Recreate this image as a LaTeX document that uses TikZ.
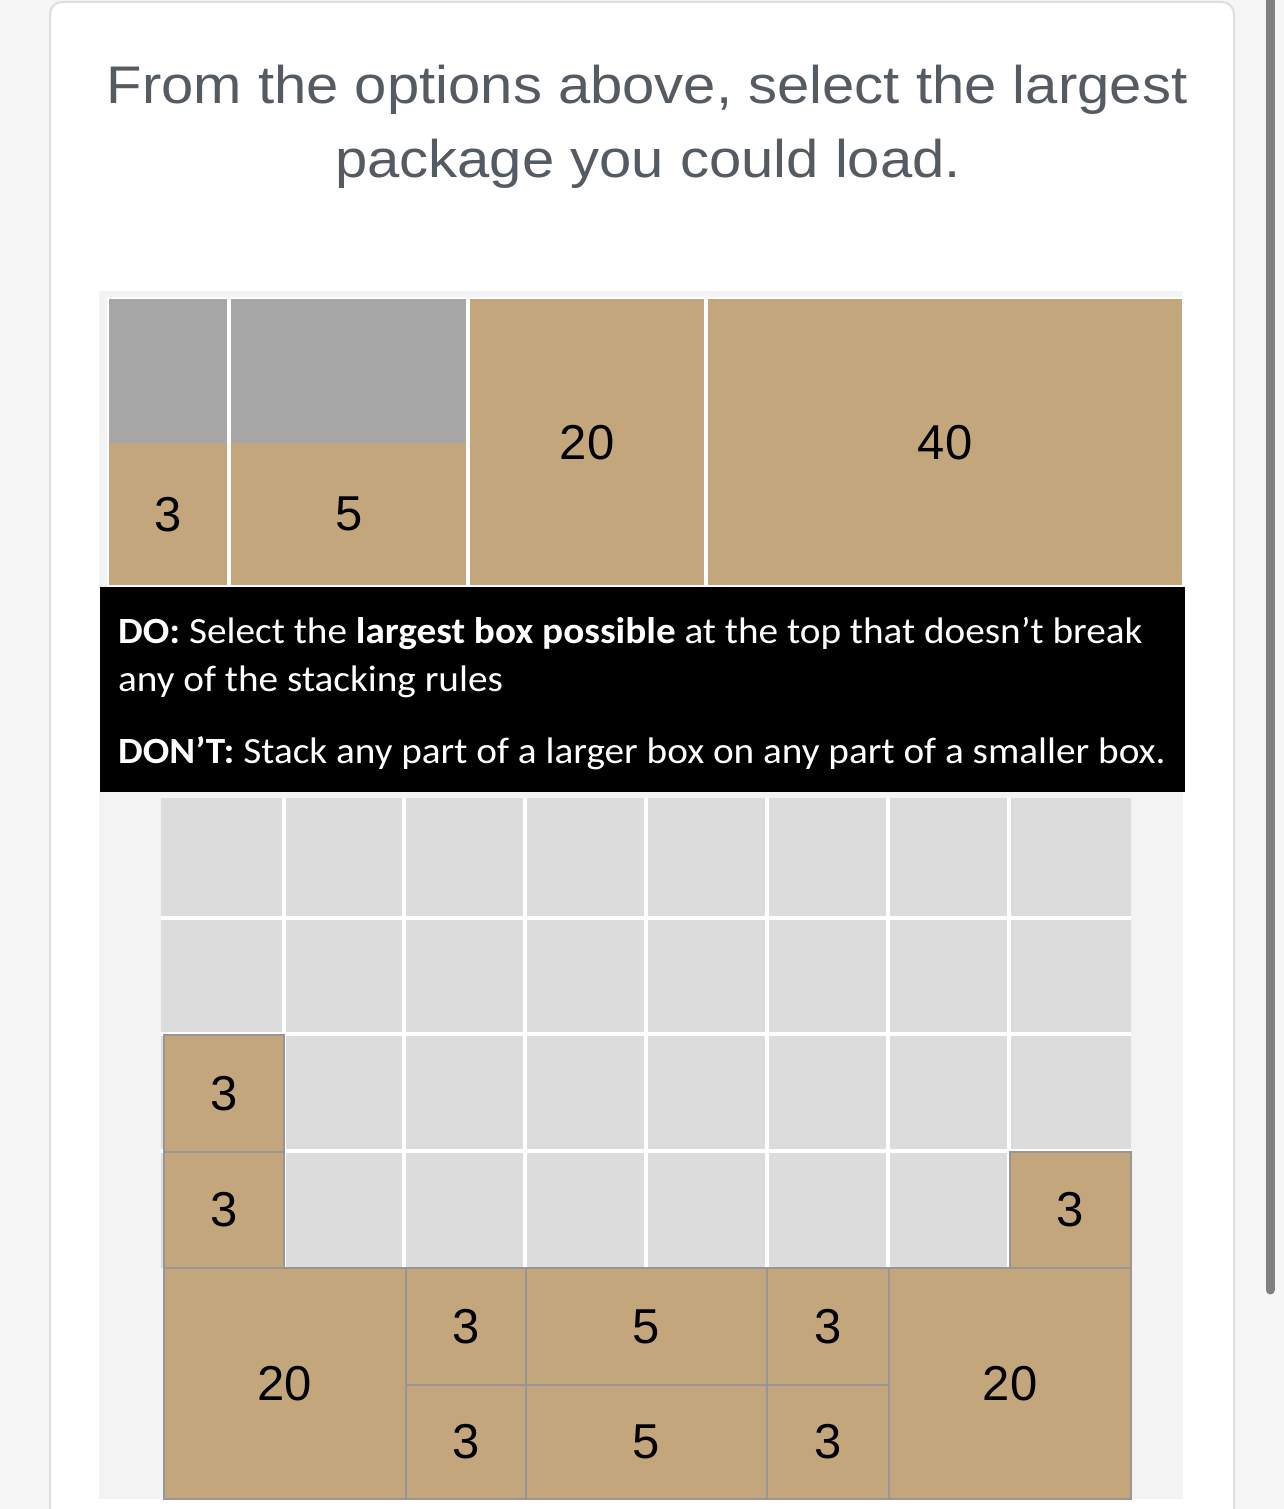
\documentclass[tikz,border=0pt]{standalone}
\usepackage{fontspec}
\setmainfont{Liberation Sans}
\newfontfamily\headfont[FakeStretch=1.095]{Liberation Sans}
\newfontfamily\notefont[FakeStretch=1.06]{Carlito}
\definecolor{pagegrey}{RGB}{246,246,246}
\definecolor{cardline}{RGB}{222,222,222}
\definecolor{headgrey}{RGB}{85,91,98}
\definecolor{imgbg}{RGB}{243,243,243}
\definecolor{boxtan}{RGB}{196,166,125}
\definecolor{boxedge}{RGB}{150,150,150}
\definecolor{topgrey}{RGB}{166,166,166}
\definecolor{cellgrey}{RGB}{220,220,220}
\definecolor{barcol}{RGB}{128,128,128}
\tikzset{
  headtext/.style={anchor=base, text=headgrey, inner sep=0pt, font=\headfont\fontsize{53}{60}\selectfont},
  notetext/.style={anchor=base west, text=white, inner sep=0pt, font=\notefont\fontsize{37}{40}\selectfont},
  pack/.style={anchor=north west, inner sep=0pt, fill=boxtan, text=black, font=\fontsize{49}{49}\selectfont},
  stackbox/.style={pack, draw=boxedge, line width=2pt},
  greybox/.style={anchor=north west, inner sep=0pt, fill=topgrey},
  gridline/.style={white, line width=4pt}
}

\begin{document}
\begin{tikzpicture}[x=1pt,y=-1pt]
	\useasboundingbox (0,0) rectangle (1284,1509);
	\fill[pagegrey] (0,0) rectangle (1284,1509);
	\draw[cardline, line width=2pt, fill=white, rounded corners=12pt] (50,2) rectangle (1234,1540);
	\draw[barcol, line width=9pt, line cap=round] (1270,-20) -- (1270,1290);
	
	\node[headtext] (head1) at (647,104) {From the options above, select the largest};
	\node[headtext] (head2) at (648,177) {package you could load.};
	
	\fill[imgbg] (99,291) rectangle (1183,587);
	\fill[white] (107,297) rectangle (1183,587);
	\node[greybox, minimum width=118pt, minimum height=144pt] (grey3) at (109,299) {};
	\node[pack, minimum width=118pt, minimum height=142pt] (top3) at (109,443) {3};
	\node[greybox, minimum width=235pt, minimum height=144pt] (grey5) at (231,299) {};
	\node[pack, minimum width=235pt, minimum height=142pt] (top5) at (231,443) {5};
	\node[pack, minimum width=234pt, minimum height=286pt] (top20) at (470,299) {20};
	\node[pack, minimum width=474pt, minimum height=286pt] (top40) at (708,299) {40};
	
	\fill[black] (100,587) rectangle (1185,792);
	\node[notetext] (dorule) at (118,643) {\textbf{DO:} Select the \textbf{largest box possible} at the top that doesn’t break};
	\node[notetext] (dorule2) at (118,691) {any of the stacking rules};
	\node[notetext] (dontrule) at (118,763) {\textbf{DON’T:} Stack any part of a larger box on any part of a smaller box.};
	
	\fill[imgbg] (99,792) rectangle (1183,1499);
	\fill[cellgrey] (161,798) rectangle (1131,1268);
	\draw[gridline] (284,798) -- (284,1268);
	\draw[gridline] (404,798) -- (404,1268);
	\draw[gridline] (525,798) -- (525,1268);
	\draw[gridline] (646,798) -- (646,1268);
	\draw[gridline] (767,798) -- (767,1268);
	\draw[gridline] (888,798) -- (888,1268);
	\draw[gridline] (1009,798) -- (1009,1268);
	\draw[gridline] (161,918) -- (1131,918);
	\draw[gridline] (161,1034) -- (1131,1034);
	\draw[gridline] (161,1151) -- (1131,1151);
	
	\node[stackbox, minimum width=120pt, minimum height=117pt] (left3a) at (163,1034) {3};
	\node[stackbox, minimum width=120pt, minimum height=116pt] (left3b) at (163,1151) {3};
	\node[stackbox, minimum width=121pt, minimum height=116pt] (right3) at (1009,1151) {3};
	\node[stackbox, minimum width=242pt, minimum height=231pt] (low20a) at (163,1267) {20};
	\node[stackbox, minimum width=120pt, minimum height=117pt] (mid3a) at (405,1267) {3};
	\node[stackbox, minimum width=120pt, minimum height=114pt] (mid3b) at (405,1384) {3};
	\node[stackbox, minimum width=241pt, minimum height=117pt] (mid5a) at (525,1267) {5};
	\node[stackbox, minimum width=241pt, minimum height=114pt] (mid5b) at (525,1384) {5};
	\node[stackbox, minimum width=122pt, minimum height=117pt] (mid3c) at (766,1267) {3};
	\node[stackbox, minimum width=122pt, minimum height=114pt] (mid3d) at (766,1384) {3};
	\node[stackbox, minimum width=242pt, minimum height=231pt] (low20b) at (888,1267) {20};
\end{tikzpicture}
\end{document}
